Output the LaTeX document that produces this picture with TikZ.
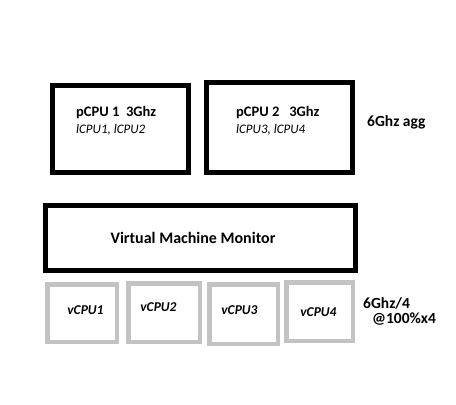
\documentclass[tikz,border=0pt]{standalone}
\usepackage{fontspec}
\setmainfont{Carlito}
\definecolor{vgray}{RGB}{195,195,195}

\begin{document}
\begin{tikzpicture}
[
	x=1pt,
	y=-1pt,
	pbox/.style={draw,line width=5pt,inner sep=0pt},
	vbox/.style={draw=vgray,line width=4.5pt,inner sep=0pt},
	title/.style={anchor=west,inner sep=0pt,font=\fontsize{14.5}{16}\selectfont\bfseries},
	side/.style={anchor=west,inner sep=0pt,font=\fontsize{15.5}{17}\selectfont\bfseries},
	sub/.style={anchor=west,inner sep=0pt,font=\fontsize{13}{15}\selectfont\itshape},
	vlabel/.style={inner sep=0pt,font=\fontsize{13.5}{15}\selectfont\bfseries\itshape}
]

	\useasboundingbox[fill=white] (0,0) rectangle (456,405);

	% physical cpus
	\node[pbox,minimum width=135.5pt,minimum height=87pt] (p1) at (120.25,129) {};
	\node[pbox,minimum width=146pt,minimum height=90pt] (p2) at (279.5,127.5) {};
	\node[title] (p1t) at (76,113) {pCPU 1\ \ 3Ghz};
	\node[sub] (p1s) at (76,130) {lCPU1, lCPU2};
	\node[title] (p2t) at (236,113) {pCPU 2\ \ \ 3Ghz};
	\node[sub] (p2s) at (236,130) {lCPU3, lCPU4};
	\node[side] (agg) at (367,122) {6Ghz agg};

	% monitor
	\node[pbox,minimum width=310pt,minimum height=65pt] (vmm) at (200.5,238) {};
	\node[font=\fontsize{16}{18}\selectfont\bfseries,inner sep=0pt] (vmmt) at (193,238) {Virtual Machine Monitor};

	% virtual cpus
	\node[vbox,minimum width=69.5pt,minimum height=57.5pt] (v1) at (82,313) {};
	\node[vbox,minimum width=71.5pt,minimum height=58.5pt] (v2) at (164,312.5) {};
	\node[vbox,minimum width=68.5pt,minimum height=59.5pt] (v3) at (243.5,314) {};
	\node[vbox,minimum width=66.5pt,minimum height=58.5pt] (v4) at (319.5,311.5) {};
	\node[vlabel] (v1t) at (85.5,310) {vCPU1};
	\node[vlabel] (v2t) at (158.5,307) {vCPU2};
	\node[vlabel] (v3t) at (239.5,310) {vCPU3};
	\node[vlabel] (v4t) at (318.5,312) {vCPU4};
	\node[side] (rate) at (363,303) {6Ghz/4};
	\node[side] (pct) at (372,319) {@100\%x4};

\end{tikzpicture}
\end{document}
